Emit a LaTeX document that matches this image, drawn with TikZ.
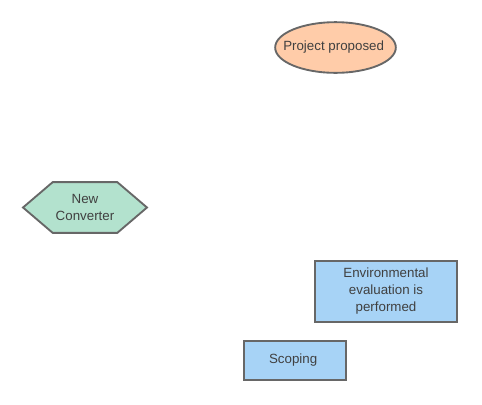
\documentclass[tikz,border=0pt]{standalone}
\usepackage{fontspec}
\setmainfont{Liberation Sans}
\usetikzlibrary{shapes.geometric,shapes.symbols}

\definecolor{peach}{HTML}{FFCCA9}
\definecolor{mint}{HTML}{B3E2CE}
\definecolor{skyblue}{HTML}{A7D3F6}
\definecolor{edgegrey}{HTML}{676767}

\tikzset{
  shapebase/.style={draw=edgegrey, line width=1.4pt, inner sep=0pt, align=center,
    font=\fontsize{10}{12.75}\selectfont, text=black!75},
  startnode/.style={shapebase, ellipse, fill=peach, inner xsep=-10pt,
    minimum width=90.5pt, minimum height=38pt},
  hexnode/.style={shapebase, signal, signal to=west and east, signal pointer angle=81,
    fill=mint, minimum width=93pt, minimum height=38pt},
  processbox/.style={shapebase, rectangle, fill=skyblue}
}

\begin{document}
\begin{tikzpicture}[x=0.75pt, y=-0.75pt]
	  \useasboundingbox (0,0) rectangle (482,404);

	  \node [ startnode ] (proposed) at (335.5,47.5) { Project proposed };
	  \node [ hexnode ] (converter) at (85,207.5) { New\\Converter };
	  \node [ processbox, minimum width=106pt, minimum height=45.5pt ] (evaluation) at (386,291.5)
	    { Environmental\\evaluation is\\performed };
	  \node [ processbox, minimum width=76pt, minimum height=29pt ] (scoping) at (295,360.5) { Scoping };
	\end{tikzpicture}
\end{document}
